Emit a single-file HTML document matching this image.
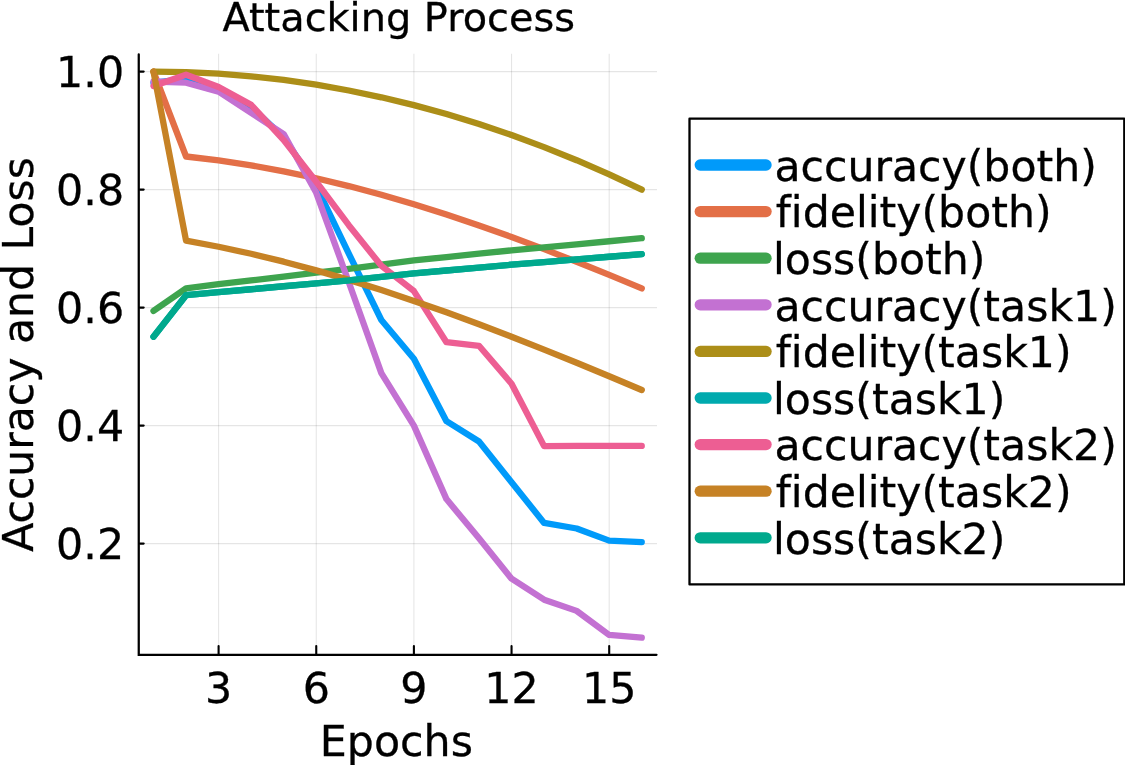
<!DOCTYPE html>
<html><head><meta charset="utf-8"><title>Attacking Process</title>
<style>
html,body{margin:0;padding:0;background:#fff;}
svg{display:block;}
text{font-family:"DejaVu Sans","Liberation Sans",sans-serif;fill:#000;stroke:#000;stroke-width:0.3px;font-variant-ligatures:none;font-feature-settings:"liga" 0,"clig" 0,"dlig" 0;}
</style></head><body>
<svg width="1125" height="765" viewBox="0 0 1125 765">
<rect x="0" y="0" width="1125" height="765" fill="#fff"/>
<g stroke="#000" stroke-opacity="0.1" stroke-width="1.1" fill="none">
<line x1="218.60" y1="53.8" x2="218.60" y2="654.7"/>
<line x1="316.25" y1="53.8" x2="316.25" y2="654.7"/>
<line x1="413.90" y1="53.8" x2="413.90" y2="654.7"/>
<line x1="511.55" y1="53.8" x2="511.55" y2="654.7"/>
<line x1="609.20" y1="53.8" x2="609.20" y2="654.7"/>
<line x1="139.4" y1="543.60" x2="657.0" y2="543.60"/>
<line x1="139.4" y1="425.60" x2="657.0" y2="425.60"/>
<line x1="139.4" y1="307.60" x2="657.0" y2="307.60"/>
<line x1="139.4" y1="189.60" x2="657.0" y2="189.60"/>
<line x1="139.4" y1="71.60" x2="657.0" y2="71.60"/>
</g>
<g fill="none" stroke-width="6.3" stroke-linecap="round" stroke-linejoin="round">
<polyline stroke="#009AFA" points="153.50,82.81 186.05,78.68 218.60,89.89 251.15,107.00 283.70,137.33 316.25,186.06 348.80,253.61 381.35,319.99 413.90,358.69 446.45,421.17 479.00,441.53 511.55,482.24 544.10,522.95 576.65,528.50 609.20,540.65 641.75,542.07"/>
<polyline stroke="#E36F47" points="153.50,71.60 186.05,156.50 218.60,160.38 251.15,165.33 283.70,171.30 316.25,178.24 348.80,186.08 381.35,194.78 413.90,204.28 446.45,214.52 479.00,225.44 511.55,237.00 544.10,249.14 576.65,261.79 609.20,274.91 641.75,288.44"/>
<polyline stroke="#3EA44E" points="153.50,310.96 186.05,288.37 218.60,284.24 251.15,280.40 283.70,276.55 316.25,272.69 348.80,268.84 381.35,264.62 413.90,260.40 446.45,257.06 479.00,253.71 511.55,250.37 544.10,247.33 576.65,244.29 609.20,241.25 641.75,238.22"/>
<polyline stroke="#C371D2" points="153.50,81.51 186.05,82.69 218.60,91.66 251.15,112.90 283.70,134.14 316.25,192.84 348.80,282.23 381.35,373.09 413.90,425.60 446.45,499.11 479.00,538.29 511.55,578.70 544.10,599.65 576.65,610.86 609.20,634.93 641.75,637.71"/>
<polyline stroke="#AC8E18" points="153.50,71.60 186.05,72.12 218.60,73.70 251.15,76.32 283.70,79.99 316.25,84.71 348.80,90.48 381.35,97.30 413.90,105.16 446.45,114.08 479.00,124.04 511.55,135.06 544.10,147.12 576.65,160.23 609.20,174.39 641.75,189.60"/>
<polyline stroke="#00AAAE" points="153.50,336.69 186.05,295.21 218.60,292.22 251.15,289.24 283.70,286.25 316.25,283.27 348.80,280.28 381.35,276.83 413.90,273.38 446.45,270.49 479.00,267.60 511.55,264.71 544.10,262.05 576.65,259.40 609.20,256.74 641.75,254.09"/>
<polyline stroke="#ED5E93" points="153.50,86.05 186.05,74.73 218.60,87.06 251.15,104.88 283.70,140.04 316.25,181.69 348.80,225.18 381.35,265.83 413.90,291.08 446.45,342.23 479.00,345.77 511.55,383.71 544.10,446.13 576.65,445.96 609.20,445.96 641.75,445.96"/>
<polyline stroke="#C68225" points="153.50,71.60 186.05,240.71 218.60,246.77 251.15,253.78 283.70,261.67 316.25,270.38 348.80,279.86 381.35,290.05 413.90,300.89 446.45,312.32 479.00,324.28 511.55,336.72 544.10,349.57 576.65,362.77 609.20,376.27 641.75,390.01"/>
<polyline stroke="#00A98D" points="153.50,336.69 186.05,295.21 218.60,292.22 251.15,289.24 283.70,286.25 316.25,283.27 348.80,280.28 381.35,276.83 413.90,273.38 446.45,270.49 479.00,267.60 511.55,264.71 544.10,262.05 576.65,259.40 609.20,256.74 641.75,254.09"/>
</g>
<g stroke="#000" fill="none" stroke-linecap="round">
<polyline points="138.75,54.4 138.75,654.85 656.5,654.85" stroke-width="2.25" stroke-linejoin="miter"/>
<line x1="218.60" y1="654.85" x2="218.60" y2="646" stroke-width="2.1"/>
<line x1="316.25" y1="654.85" x2="316.25" y2="646" stroke-width="2.1"/>
<line x1="413.90" y1="654.85" x2="413.90" y2="646" stroke-width="2.1"/>
<line x1="511.55" y1="654.85" x2="511.55" y2="646" stroke-width="2.1"/>
<line x1="609.20" y1="654.85" x2="609.20" y2="646" stroke-width="2.1"/>
<line x1="139.85" y1="543.60" x2="143.6" y2="543.60" stroke-width="2.3"/>
<line x1="139.85" y1="425.60" x2="143.6" y2="425.60" stroke-width="2.3"/>
<line x1="139.85" y1="307.60" x2="143.6" y2="307.60" stroke-width="2.3"/>
<line x1="139.85" y1="189.60" x2="143.6" y2="189.60" stroke-width="2.3"/>
<line x1="139.85" y1="71.60" x2="143.6" y2="71.60" stroke-width="2.3"/>
</g>
<g font-size="42.75">
<text x="218.60" y="703.3" text-anchor="middle">3</text>
<text x="316.25" y="703.3" text-anchor="middle">6</text>
<text x="413.90" y="703.3" text-anchor="middle">9</text>
<text x="511.55" y="703.3" text-anchor="middle">12</text>
<text x="609.20" y="703.3" text-anchor="middle">15</text>
<text x="124.1" y="559.20" text-anchor="end">0.2</text>
<text x="124.1" y="441.20" text-anchor="end">0.4</text>
<text x="124.1" y="323.20" text-anchor="end">0.6</text>
<text x="124.1" y="205.20" text-anchor="end">0.8</text>
<text x="124.1" y="87.20" text-anchor="end">1.0</text>
<text x="396.4" y="755.7" text-anchor="middle">Epochs</text>
<text transform="translate(32.5,354.5) rotate(-90)" text-anchor="middle" font-size="42.55">Accuracy and Loss</text>
</g>
<text x="398.7" y="30.6" font-size="39.85" text-anchor="middle">Attacking Process</text>
<rect x="689.5" y="118.65" width="434.8" height="465.8" fill="#fff" stroke="#000" stroke-width="2.3" stroke-linejoin="round"/>
<g font-size="42.62">
<line x1="700.25" y1="165.00" x2="766.05" y2="165.00" stroke="#009AFA" stroke-width="11.3" stroke-linecap="round"/>
<text x="774.5" y="180.80">accuracy(both)</text>
<line x1="700.25" y1="211.60" x2="766.05" y2="211.60" stroke="#E36F47" stroke-width="11.3" stroke-linecap="round"/>
<text x="775.8" y="227.40">fidelity(both)</text>
<line x1="700.25" y1="258.20" x2="766.05" y2="258.20" stroke="#3EA44E" stroke-width="11.3" stroke-linecap="round"/>
<text x="773.0" y="274.00">loss(both)</text>
<line x1="700.25" y1="304.80" x2="766.05" y2="304.80" stroke="#C371D2" stroke-width="11.3" stroke-linecap="round"/>
<text x="774.5" y="320.60">accuracy(task1)</text>
<line x1="700.25" y1="351.40" x2="766.05" y2="351.40" stroke="#AC8E18" stroke-width="11.3" stroke-linecap="round"/>
<text x="775.8" y="367.20">fidelity(task1)</text>
<line x1="700.25" y1="398.00" x2="766.05" y2="398.00" stroke="#00AAAE" stroke-width="11.3" stroke-linecap="round"/>
<text x="773.0" y="413.80">loss(task1)</text>
<line x1="700.25" y1="444.60" x2="766.05" y2="444.60" stroke="#ED5E93" stroke-width="11.3" stroke-linecap="round"/>
<text x="774.5" y="460.40">accuracy(task2)</text>
<line x1="700.25" y1="491.20" x2="766.05" y2="491.20" stroke="#C68225" stroke-width="11.3" stroke-linecap="round"/>
<text x="775.8" y="507.00">fidelity(task2)</text>
<line x1="700.25" y1="537.80" x2="766.05" y2="537.80" stroke="#00A98D" stroke-width="11.3" stroke-linecap="round"/>
<text x="773.0" y="553.60">loss(task2)</text>
</g>
</svg>
</body></html>
